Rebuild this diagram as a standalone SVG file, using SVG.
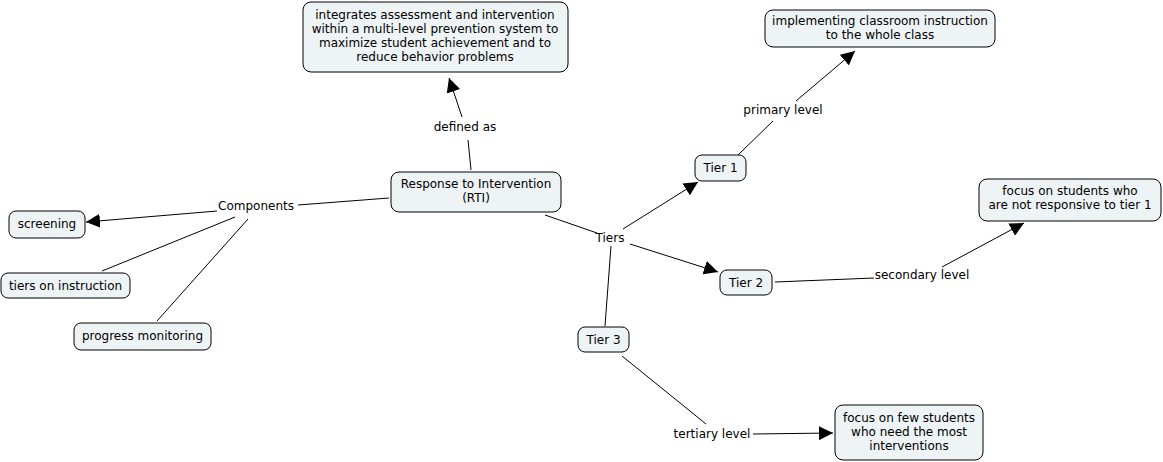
<svg xmlns="http://www.w3.org/2000/svg" width="1163" height="462" viewBox="0 0 1163 462">
<style>
.n{fill:#eef3f5;stroke:#000;stroke-width:1}
text{font-family:"DejaVu Sans",Verdana,sans-serif;font-size:12px;fill:#000;text-anchor:middle}
.c line{stroke:#000;stroke-width:1}
</style>
<defs>
<marker id="a" viewBox="0 0 10 10" refX="10" refY="5" markerWidth="14" markerHeight="14" markerUnits="userSpaceOnUse" orient="auto"><path d="M0,0L10,5L0,10z" fill="#000"/></marker>
</defs>
<rect width="1163" height="462" fill="#fff"/>
<g class="c">
<line x1="471" y1="170" x2="468" y2="140"/>
<line x1="462" y1="117" x2="449" y2="78" marker-end="url(#a)"/>
<line x1="389" y1="198" x2="298" y2="205"/>
<line x1="217" y1="211" x2="86" y2="222" marker-end="url(#a)"/>
<line x1="235" y1="217" x2="102" y2="271"/>
<line x1="248" y1="219" x2="157" y2="321"/>
<line x1="545" y1="215" x2="597" y2="233"/>
<line x1="623" y1="229" x2="698" y2="182" marker-end="url(#a)"/>
<line x1="630" y1="244" x2="718" y2="272" marker-end="url(#a)"/>
<line x1="611" y1="246" x2="605" y2="326"/>
<line x1="738" y1="155" x2="773" y2="121"/>
<line x1="796" y1="101" x2="855" y2="51" marker-end="url(#a)"/>
<line x1="775" y1="282" x2="874" y2="278"/>
<line x1="942" y1="267" x2="1024" y2="223" marker-end="url(#a)"/>
<line x1="622" y1="356" x2="706" y2="424"/>
<line x1="753" y1="434" x2="833" y2="433" marker-end="url(#a)"/>
</g>
<g id="labels">
<text x="465" y="131">defined as</text>
<text x="256" y="210">Components</text>
<text x="610" y="242">Tiers</text>
<text x="783" y="114">primary level</text>
<text x="922" y="279">secondary level</text>
<text x="712" y="438">tertiary level</text>
</g>
<g id="def"><rect class="n" x="303" y="2" width="265" height="70" rx="8"/>
<text x="435" y="19">integrates assessment and intervention</text>
<text x="435" y="33">within a multi-level prevention system to</text>
<text x="435" y="47">maximize student achievement and to</text>
<text x="435" y="61">reduce behavior problems</text></g>
<g id="rti"><rect class="n" x="391" y="172" width="170" height="40" rx="8"/>
<text x="476" y="188">Response to Intervention</text>
<text x="476" y="202">(RTI)</text></g>
<g id="screening"><rect class="n" x="9" y="211" width="76" height="27" rx="7"/>
<text x="47" y="228">screening</text></g>
<g id="tiersinstr"><rect class="n" x="1" y="273" width="129" height="25" rx="7"/>
<text x="65.5" y="290">tiers on instruction</text></g>
<g id="progress"><rect class="n" x="74" y="323" width="137" height="27" rx="7"/>
<text x="142.5" y="340">progress monitoring</text></g>
<g id="implementing"><rect class="n" x="765" y="10" width="230" height="37" rx="8"/>
<text x="880" y="25">implementing classroom instruction</text>
<text x="880" y="39">to the whole class</text></g>
<g id="tier1"><rect class="n" x="695" y="155" width="51" height="26" rx="7"/>
<text x="720.5" y="172">Tier 1</text></g>
<g id="focus1"><rect class="n" x="979" y="179" width="182" height="42" rx="8"/>
<text x="1070" y="195">focus on students who</text>
<text x="1070" y="209">are not responsive to tier 1</text></g>
<g id="tier2"><rect class="n" x="720" y="270" width="52" height="25" rx="7"/>
<text x="746" y="287">Tier 2</text></g>
<g id="tier3"><rect class="n" x="578" y="327" width="51" height="25" rx="7"/>
<text x="603.5" y="344">Tier 3</text></g>
<g id="focus3"><rect class="n" x="835" y="405" width="148" height="55" rx="8"/>
<text x="909" y="422">focus on few students</text>
<text x="909" y="436">who need the most</text>
<text x="909" y="450">interventions</text></g>
</svg>
